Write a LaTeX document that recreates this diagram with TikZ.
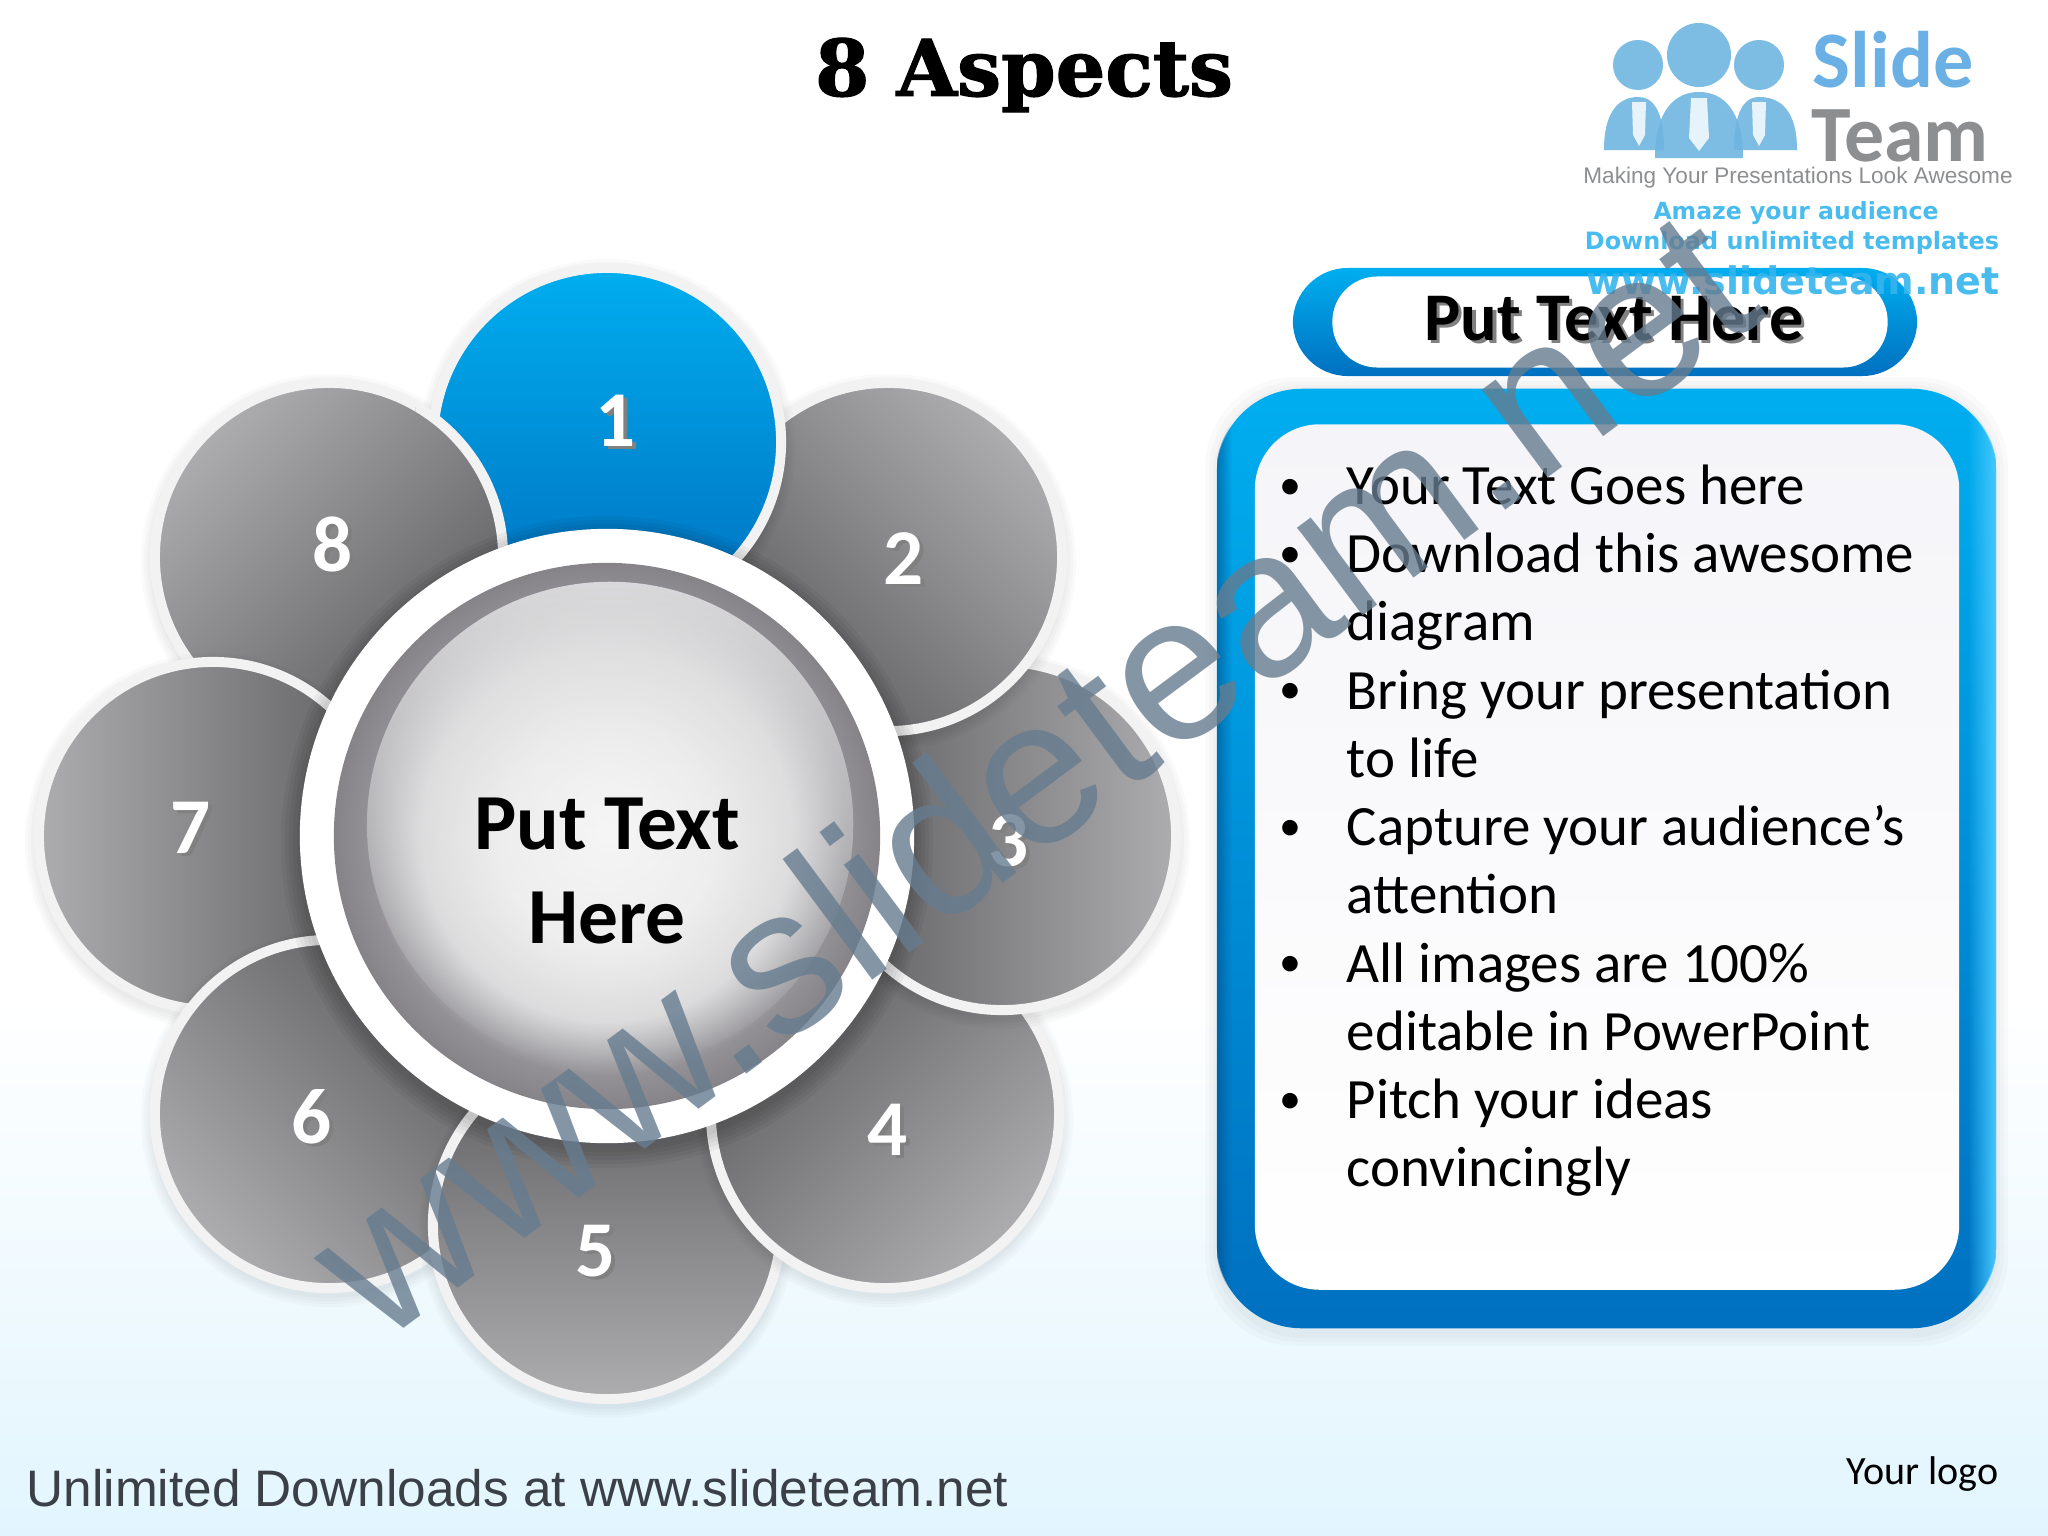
\documentclass[tikz,border=0pt]{standalone}
\usepackage{fontspec}
\setmainfont{Carlito}
\newfontfamily\titlefont{DejaVu Serif}[BoldFeatures={FakeBold=1.6}]
\newfontfamily\arialfont{Liberation Sans}
\newfontfamily\widefont{DejaVu Sans}
\usetikzlibrary{positioning,fadings}
\definecolor{topblue}{HTML}{00AEEF}
\definecolor{lowblue}{HTML}{0070C0}
\definecolor{edgecyan}{HTML}{45C8FF}
\definecolor{edgenavy}{HTML}{00508C}
\definecolor{petallight}{HTML}{ADACAE}
\definecolor{petaldark}{HTML}{5E5E60}
\definecolor{rimgray}{HTML}{F2F2F3}
\definecolor{skyblue}{HTML}{E2F5FE}
\definecolor{markgray}{HTML}{667C8F}
\definecolor{logoblue}{HTML}{6FB5E0}
\definecolor{logotext}{HTML}{35B4EE}
\definecolor{logogray}{HTML}{808285}
\definecolor{slideblue}{HTML}{5CA8E2}
\definecolor{facetint}{HTML}{F5F4F8}
\definecolor{footgray}{HTML}{3B4047}
\definecolor{ballgray}{HTML}{7F7D82}
\pgfdeclareradialshading{sphere}{\pgfpoint{0bp}{0bp}}{color(0bp)=(white!94!ballgray);color(10bp)=(white!90!ballgray);color(17bp)=(white!72!ballgray);color(22bp)=(ballgray!85!white);color(25bp)=(ballgray!95!white);color(50bp)=(ballgray)}
\newcommand{\dropped}[2]{\leavevmode\rlap{\kern0.9pt\raisebox{-0.9pt}{\textcolor{#2}{#1}}}#1}
\newcommand{\dotmark}{\raisebox{1.5pt}{\fontsize{12.5}{19.4}\selectfont\textbullet}}
\tikzset{petal/.style={circle,draw=rimgray,line width=0.1cm,minimum size=3.48cm,inner sep=0pt},
         numeral/.style={text=white,font=\fontsize{22.5}{27}\selectfont\bfseries},
         glow/.style={black,opacity=0.02},
         panelbody/.style={draw=none,top color=topblue,bottom color=lowblue},
         person/.style={fill=logoblue},
         tiepiece/.style={fill=white!92!logoblue},
         logoline/.style={text=logotext,font=\widefont\bfseries,inner sep=0pt}
}
\begin{document}
\begin{tikzpicture}[x=0.01cm,y=-0.01cm]
\useasboundingbox (0,0) rectangle (2048,1536);
\fill[white] (0,0) rectangle (2048,1536);
\shade[top color=white,bottom color=skyblue] (0,1000) rectangle (2048,1536);

\foreach \n/\x/\y/\ang in {8/329/557/45,7/213/836/90,6/329/1114/135,5/607/1225/180,4/885/1114/225,3/1002/836/270,2/888/557/315,1/607/442/0}{
  \foreach \grow in {1.79,1.82,1.85,1.88}
    \fill[glow] (\x,\y+5) circle (\grow cm);
  \ifnum\n=1
    \node[petal,top color=topblue,bottom color=lowblue] (petal\n) at (\x,\y) {};
  \else
    \node[petal,top color=petallight,bottom color=petaldark,shading angle=\ang] (petal\n) at (\x,\y) {};
  \fi
}
\begin{scope}
\clip (petal1.center) circle (1.94cm);
\node[petal,top color=petallight,bottom color=petaldark,shading angle=45] (petaltop) at (petal8.center) {};
\end{scope}

\foreach \grow in {3.1,3.14,3.18,3.22,3.26}
  \fill[black,opacity=0.04] (607,842) circle (\grow cm);
\node[circle,fill=white,minimum size=6.14cm,inner sep=0pt] (ring) at (607,836) {};
\node[circle,shading=sphere,minimum size=5.46cm,inner sep=0pt] (ball) at (ring.center) {};
\shade[inner color=white!92!ballgray,outer color=white!70!ballgray,path fading=south] (610,825) circle (2.43cm);
\node[align=center,font=\fontsize{22.6}{27}\selectfont\bfseries] (hub) at (607,871) {Put Text\\Here};

\foreach \n/\x/\y in {1/616/422,2/904/560,3/1009/842,4/888/1131,5/596/1253,6/312/1118,7/191/829,8/333/546}
  \node[numeral] (num\n) at (\x,\y) {\dropped{\n}{gray}};

\node[panelbody,rounded corners=0.55cm,minimum width=6.24cm,minimum height=1.08cm] (pill) at (1605,322) {};
\node[fill=white,rounded corners=0.45cm,minimum width=5.55cm,minimum height=0.91cm] (pillface) at (1610,322) {};
\node[font=\fontsize{19.4}{23}\selectfont\bfseries] (pilltext) at (1614,320) {\dropped{Put Text Here}{gray}};

\foreach \grow in {0.04,0.08,0.12}
  \fill[glow,rounded corners=0.9cm] (1217-\grow*100,389-\grow*100) rectangle (1996+\grow*100,1328+\grow*100+6);
\node[panelbody,rounded corners=0.85cm,minimum width=7.79cm,minimum height=9.39cm] (panel) at (1606.5,858.5) {};
\begin{scope}
\clip[rounded corners=0.85cm] (panel.north west) rectangle (panel.south east);
\fill[edgecyan,path fading=west] (1968,389) rectangle (1996,1328);
\fill[edgenavy,opacity=0.6,path fading=east] (1217,389) rectangle (1232,1328);
\end{scope}
\node[top color=facetint,bottom color=white,rounded corners=0.65cm,minimum width=7.04cm,minimum height=8.65cm] (panelface) at (1607,857) {};
\node[anchor=north west,inner sep=0pt,font=\fontsize{16.2}{19.4}\selectfont] (points) at (1279,456) {\begin{tabular}{@{}p{0.67cm}@{}l@{}}
\dotmark & Your Text Goes here\\
\dotmark & Download this awesome\\
 & diagram\\
\dotmark & Bring your presentation\\
 & to life\\
\dotmark & Capture your audience’s\\
 & attention\\
\dotmark & All images are 100\%\\
 & editable in PowerPoint\\
\dotmark & Pitch your ideas\\
 & convincingly
\end{tabular}};

\node[text=footgray,font=\arialfont\fontsize{14.6}{17}\selectfont,anchor=west,inner sep=0pt] (footer) at (26,1488) {Unlimited Downloads at www.slideteam.net};
\node[font=\fontsize{11.4}{14}\selectfont,anchor=east,inner sep=0pt] (yourlogo) at (1999,1474) {Your logo};
\node[font=\titlefont\bfseries\fontsize{22.2}{26}\selectfont,inner sep=0pt] (title) at (1024,75) {8 Aspects};

\begin{scope}[opacity=0.9]
\fill[person] (1604,150) .. controls (1604,110) and (1620,97) .. (1638,97) .. controls (1650,97) and (1664,105) .. (1664,150) -- cycle;
\fill[person] (1734,150) .. controls (1734,105) and (1748,97) .. (1759,97) .. controls (1780,97) and (1797,110) .. (1797,150) -- cycle;
\fill[person] (1655,158) .. controls (1655,110) and (1675,92) .. (1699,92) .. controls (1723,92) and (1743,110) .. (1743,158) -- cycle;
\fill[person] (1699,55) circle (0.32cm);
\fill[person] (1638,65) circle (0.25cm);
\fill[person] (1759,65) circle (0.25cm);
\fill[tiepiece] (1632,102) -- (1646,102) -- (1645,135) -- (1639,146) -- (1633,135) -- cycle;
\fill[tiepiece] (1691,98) -- (1707,98) -- (1709,138) -- (1699,151) -- (1689,138) -- cycle;
\fill[tiepiece] (1752,102) -- (1766,102) -- (1765,135) -- (1759,146) -- (1753,135) -- cycle;
\node[text=slideblue,font=\fontsize{22.8}{27}\selectfont\bfseries,inner sep=0pt] (slide) at (1893,60) {Slide};
\node[text=logogray,font=\fontsize{22.7}{27}\selectfont\bfseries,inner sep=0pt] (team) at (1900,136) {Team};
\node[text=logogray,font=\arialfont\fontsize{6.42}{8}\selectfont,inner sep=0pt] (motto) at (1798,178) {Making Your Presentations Look Awesome};
\node[logoline,font=\widefont\bfseries\fontsize{6.7}{8}\selectfont] (amaze) at (1796,213) {Amaze your audience};
\node[logoline,font=\widefont\bfseries\fontsize{6.8}{8}\selectfont] (unlimited) at (1792,243) {Download unlimited templates};
\node[logoline,font=\widefont\bfseries\fontsize{10.8}{13}\selectfont] (site) at (1793,280) {www.slideteam.net};
\end{scope}

\node[text=markgray,opacity=0.8,rotate=36.6,font=\arialfont\fontsize{59}{62}\selectfont,inner sep=0pt] (watermark) at (1030,771) {www.slideteam.net};
\end{tikzpicture}
\end{document}
